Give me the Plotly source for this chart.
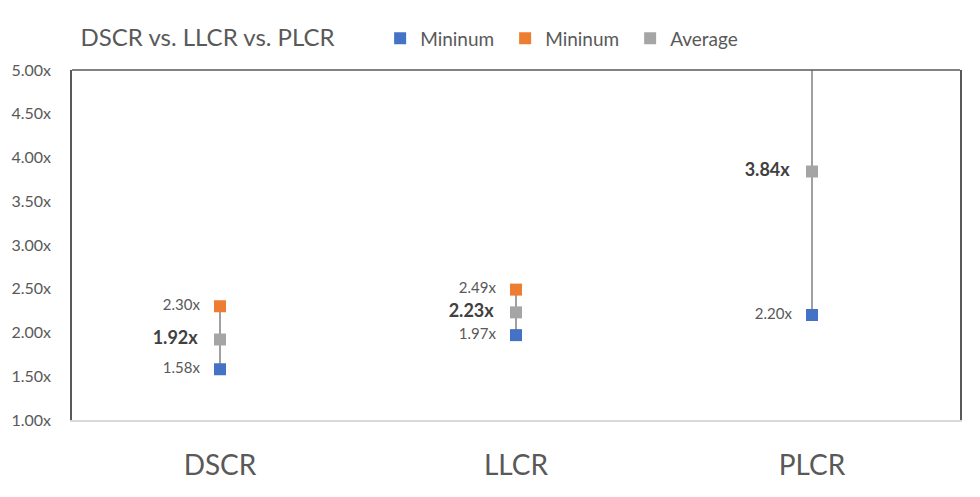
import plotly.graph_objects as go

# ratio data
metrics = ["DSCR", "LLCR", "PLCR"]
low_vals = [1.58, 1.97, 2.20]
high_vals = [2.30, 2.49, 5.60]   # PLCR high is off the top of the chart
avg_vals = [1.92, 2.23, 3.84]
y_ticks = [1.0, 1.5, 2.0, 2.5, 3.0, 3.5, 4.0, 4.5, 5.0]
y_max = 5.0

font_name = "Lato"
grey_text = "#595959"
gap = "\u00a0\u00a0\u00a0"

fig = go.Figure()

# hi-low connector lines
line_x, line_y = [], []
for m, lo, hi in zip(metrics, low_vals, high_vals):
    line_x += [m, m, None]
    line_y += [lo, hi, None]
fig.add_trace(go.Scatter(x=line_x, y=line_y, mode="lines",
                         line=dict(color="#808080", width=1.5),
                         showlegend=False, hoverinfo="skip"))

def fmt(vals, bold=False):
    out = []
    for v in vals:
        if v > y_max:  # label would sit outside the plot
            out.append("")
            continue
        t = f"{v:.2f}x"
        out.append(("<b>" + t + "</b>" if bold else t) + gap)
    return out

fig.add_trace(go.Scatter(x=metrics, y=low_vals, name="Mininum", mode="markers+text",
                         marker=dict(symbol="square", size=12, color="#4472C4"),
                         text=fmt(low_vals), textposition="middle left",
                         textfont=dict(family=font_name, size=15, color=grey_text),
                         cliponaxis=True))
fig.add_trace(go.Scatter(x=metrics, y=high_vals, name="Mininum", mode="markers+text",
                         marker=dict(symbol="square", size=12, color="#ED7D31"),
                         text=fmt(high_vals), textposition="middle left",
                         textfont=dict(family=font_name, size=15, color=grey_text),
                         cliponaxis=True))
fig.add_trace(go.Scatter(x=metrics, y=avg_vals, name="Average", mode="markers+text",
                         marker=dict(symbol="square", size=12, color="#A5A5A5"),
                         text=fmt(avg_vals, bold=True), textposition="middle left",
                         textfont=dict(family=font_name, size=18, color="#404040"),
                         cliponaxis=True))

fig.update_layout(
    width=980, height=497,
    margin=dict(l=64, r=28, t=62, b=85),
    paper_bgcolor="white", plot_bgcolor="white",
    font=dict(family=font_name, color=grey_text),
    title=dict(text="DSCR vs. LLCR vs. PLCR", x=0.074, xanchor="left",
               y=0.94, yanchor="middle",
               font=dict(family=font_name, size=24, color=grey_text)),
    legend=dict(orientation="h", x=0.347, xanchor="left", y=1.09, yanchor="middle",
                font=dict(family=font_name, size=19, color=grey_text),
                itemwidth=30, itemsizing="constant",
                entrywidth=80, entrywidthmode="pixels"),
    shapes=[dict(type="line", xref="paper", yref="paper", x0=0, x1=1, y0=1, y1=1,
                 line=dict(color=grey_text, width=1.5))],
)
fig.update_xaxes(type="category", range=[-0.5, 2.5], showgrid=False,
                 showline=True, linecolor="#d9d9d9", linewidth=1.5,
                 tickfont=dict(family=font_name, size=28, color=grey_text),
                 ticks="", ticklabelstandoff=20, automargin=False)
fig.update_yaxes(range=[1, y_max], tickvals=y_ticks,
                 ticktext=[f"{v:.2f}x" for v in y_ticks],
                 showgrid=False, zeroline=False,
                 showline=True, linecolor=grey_text, linewidth=1.5, mirror=True,
                 tickfont=dict(family=font_name, size=16, color=grey_text),
                 ticks="", ticklabelstandoff=16, automargin=False)

fig.write_html("out.html")
